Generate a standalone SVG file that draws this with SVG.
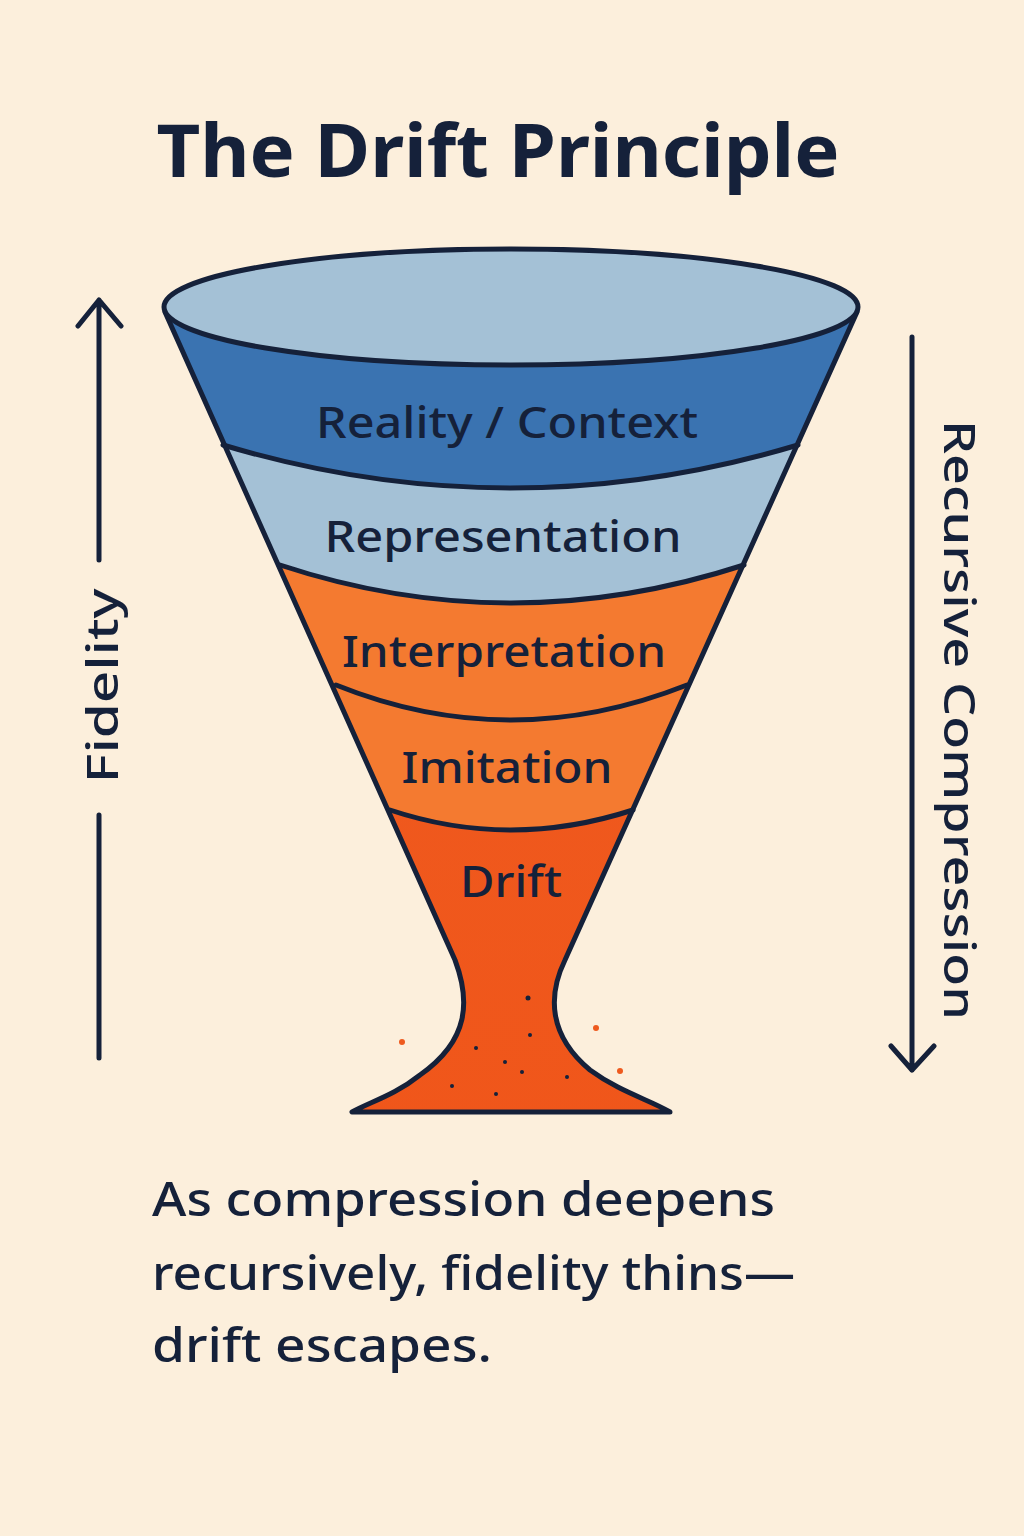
<svg xmlns="http://www.w3.org/2000/svg" width="1024" height="1536" viewBox="0 0 1024 1536">
<style>
.t{font-family:"Noto Sans","Open Sans",sans-serif;fill:#15213a}
.lab{font-size:44px;font-weight:500;text-anchor:middle}
.ln{stroke:#15213a;stroke-width:5;fill:none;stroke-linecap:round;stroke-linejoin:round}
</style>
<defs>
<clipPath id="fc"><path id="fp" d="M165,312 L455,960 C470,1000 470,1040 420,1075 C395,1095 370,1102 352,1112 L670,1112 C650,1100 620,1092 590,1070 C548,1035 548,995 565,960 L857,312 A347,57 0 0 1 165,312 Z"/></clipPath>
<linearGradient id="dg" x1="0" y1="0" x2="0" y2="1"><stop offset="0" stop-color="#ee5c22"/><stop offset="1" stop-color="#f0561a"/></linearGradient>
</defs>
<rect width="1024" height="1536" fill="#fcefdc"/>
<text class="t" x="498" y="177" font-size="74" font-weight="700" text-anchor="middle" textLength="683" lengthAdjust="spacingAndGlyphs">The Drift Principle</text>
<g id="funnel">
<g clip-path="url(#fc)">
<rect x="100" y="200" width="820" height="950" fill="url(#dg)"/>
<path d="M100,250 L920,250 L920,810 L633,810 Q510,850 390,810 L100,810 Z" fill="#f47a30"/>
<path d="M100,250 L920,250 L920,685 L687,685 Q510,755 336,685 L100,685 Z" fill="#f47a30"/>
<path d="M100,250 L920,250 L920,565 L744,565 Q510,641 280,565 L100,565 Z" fill="#a4c1d6"/>
<path d="M100,250 L920,250 L920,445 L798,445 Q510,531 223,445 L100,445 Z" fill="#3a73b1"/>
</g>
<path class="ln" d="M390,810 Q510,850 633,810 M336,685 Q510,755 687,685 M280,565 Q510,641 744,565 M223,445 Q510,531 798,445"/>
<path class="ln" d="M165,312 L455,960 C470,1000 470,1040 420,1075 C395,1095 370,1102 352,1112 L670,1112 C650,1100 620,1092 590,1070 C548,1035 548,995 565,960 L857,312"/>
<ellipse cx="511" cy="307" rx="347" ry="58" fill="#a4c1d6" stroke="#15213a" stroke-width="5"/>
</g>
<g id="labels">
<text class="t lab" x="507" y="438" textLength="382" lengthAdjust="spacingAndGlyphs">Reality / Context</text>
<text class="t lab" x="503" y="552" textLength="357" lengthAdjust="spacingAndGlyphs">Representation</text>
<text class="t lab" x="504" y="667" textLength="324" lengthAdjust="spacingAndGlyphs">Interpretation</text>
<text class="t lab" x="507" y="783" textLength="211" lengthAdjust="spacingAndGlyphs">Imitation</text>
<text class="t lab" x="511" y="897" textLength="102" lengthAdjust="spacingAndGlyphs">Drift</text>
</g>
<g id="dots" fill="#15213a">
<circle cx="528" cy="998" r="2.5"/><circle cx="530" cy="1035" r="2"/><circle cx="476" cy="1048" r="2"/><circle cx="505" cy="1062" r="2"/><circle cx="522" cy="1072" r="2"/><circle cx="567" cy="1077" r="2"/><circle cx="452" cy="1086" r="2"/><circle cx="496" cy="1094" r="2"/>
<circle cx="402" cy="1042" r="3" fill="#ee5a1e"/><circle cx="596" cy="1028" r="3" fill="#ee5a1e"/><circle cx="620" cy="1071" r="3" fill="#ee5a1e"/>
</g>
<g id="connectors">
<path class="ln" d="M99,300 L99,560 M78,326 L99,300 L121,326 M99,815 L99,1058"/>
<path class="ln" d="M912,337 L912,1070 M891,1046 L912,1070 L934,1046"/>
</g>
<text class="t" transform="translate(118,686) rotate(-90)" font-size="44" font-weight="500" text-anchor="middle" textLength="195" lengthAdjust="spacingAndGlyphs">Fidelity</text>
<text class="t" transform="translate(944,720) rotate(90)" font-size="44" font-weight="500" text-anchor="middle" textLength="600" lengthAdjust="spacingAndGlyphs">Recursive Compression</text>
<g id="caption" class="t" font-size="48" font-weight="500">
<text x="152" y="1216" textLength="623" lengthAdjust="spacingAndGlyphs">As compression deepens</text>
<text x="152" y="1290" textLength="643" lengthAdjust="spacingAndGlyphs">recursively, fidelity thins—</text>
<text x="152" y="1362" textLength="340" lengthAdjust="spacingAndGlyphs">drift escapes.</text>
</g>
</svg>
